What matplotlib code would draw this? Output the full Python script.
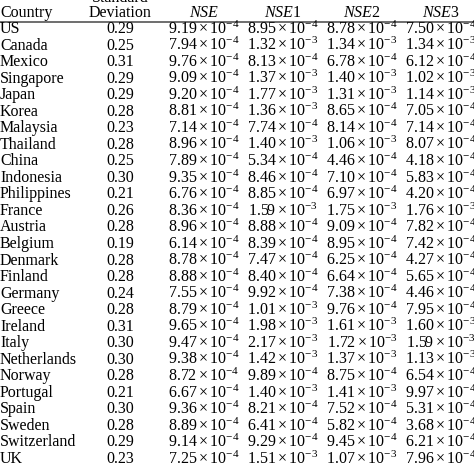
import matplotlib
matplotlib.use("Agg")
import matplotlib.pyplot as plt

plt.rcParams['font.family'] = ['Liberation Serif', 'DejaVu Serif']
plt.rcParams['mathtext.fontset'] = 'custom'
plt.rcParams['mathtext.rm'] = 'Liberation Serif'
plt.rcParams['mathtext.it'] = 'Liberation Serif:italic'

countries = ["US","Canada","Mexico","Singapore","Japan","Korea","Malaysia","Thailand","China",
             "Indonesia","Philippines","France","Austria","Belgium","Denmark","Finland","Germany",
             "Greece","Ireland","Italy","Netherlands","Norway","Portugal","Spain","Sweden",
             "Switzerland","UK"]
std_dev = ["0.29","0.25","0.31","0.29","0.29","0.28","0.23","0.28","0.25","0.30","0.21","0.26",
           "0.28","0.19","0.28","0.28","0.24","0.28","0.31","0.30","0.30","0.28","0.21","0.30",
           "0.28","0.29","0.23"]
nse = [(9.19,-4),(7.94,-4),(9.76,-4),(9.09,-4),(9.20,-4),(8.81,-4),(7.14,-4),(8.96,-4),(7.89,-4),
       (9.35,-4),(6.76,-4),(8.36,-4),(8.96,-4),(6.14,-4),(8.78,-4),(8.88,-4),(7.55,-4),(8.79,-4),
       (9.65,-4),(9.47,-4),(9.38,-4),(8.72,-4),(6.67,-4),(9.36,-4),(8.89,-4),(9.14,-4),(7.25,-4)]
nse1 = [(8.95,-4),(1.32,-3),(8.13,-4),(1.37,-3),(1.77,-3),(1.36,-3),(7.74,-4),(1.40,-3),(5.34,-4),
        (8.46,-4),(8.85,-4),(1.59,-3),(8.88,-4),(8.39,-4),(7.47,-4),(8.40,-4),(9.92,-4),(1.01,-3),
        (1.98,-3),(2.17,-3),(1.42,-3),(9.89,-4),(1.40,-3),(8.21,-4),(6.41,-4),(9.29,-4),(1.51,-3)]
nse2 = [(8.78,-4),(1.34,-3),(6.78,-4),(1.40,-3),(1.31,-3),(8.65,-4),(8.14,-4),(1.06,-3),(4.46,-4),
        (7.10,-4),(6.97,-4),(1.75,-3),(9.09,-4),(8.95,-4),(6.25,-4),(6.64,-4),(7.38,-4),(9.76,-4),
        (1.61,-3),(1.72,-3),(1.37,-3),(8.75,-4),(1.41,-3),(7.52,-4),(5.82,-4),(9.45,-4),(1.07,-3)]
nse3 = [(7.50,-4),(1.34,-3),(6.12,-4),(1.02,-3),(1.14,-3),(7.05,-4),(7.14,-4),(8.07,-4),(4.18,-4),
        (5.83,-4),(4.20,-4),(1.76,-3),(7.82,-4),(7.42,-4),(4.27,-4),(5.65,-4),(4.46,-4),(7.95,-4),
        (1.60,-3),(1.59,-3),(1.13,-3),(6.54,-4),(9.97,-4),(5.31,-4),(3.68,-4),(6.21,-4),(7.96,-4)]
headers = ["Country", "Standard\nDeviation", "$NSE$", "$NSE$1", "$NSE$2", "$NSE$3"]

def fmt(v):
    m, e = v
    return r"$%.2f \times 10^{%d}$" % (m, e)

fig = plt.figure(figsize=(4.74, 4.74), dpi=100)
ax = fig.add_axes([0, 0, 1, 1])
ax.set_xlim(0, 474)
ax.set_ylim(474, 0)
ax.axis('off')

fs = 11.5
colx = [0, 120, 204, 283, 362, 441]
y0, pitch = 29, 16.54
ax.text(colx[0], 13, headers[0], fontsize=fs, va='center', ha='left')
ax.text(colx[1], 13, "Deviation", fontsize=fs, va='center', ha='center')
ax.text(colx[1], -2, "Standard", fontsize=fs, va='center', ha='center')
for i in range(2, 6):
    ax.text(colx[i], 13, headers[i], fontsize=fs, va='center', ha='center')
ax.plot([0, 474], [21.5, 21.5], color='#555555', lw=1.2)

for r, c in enumerate(countries):
    y = y0 + r * pitch
    ax.text(colx[0], y, c, fontsize=fs, va='center', ha='left')
    ax.text(colx[1], y, std_dev[r], fontsize=fs, va='center', ha='center')
    for ci, col in zip(range(2, 6), [nse, nse1, nse2, nse3]):
        ax.text(colx[ci], y, fmt(col[r]), fontsize=fs, va='center', ha='center')

fig.savefig("out.png", dpi=100)
